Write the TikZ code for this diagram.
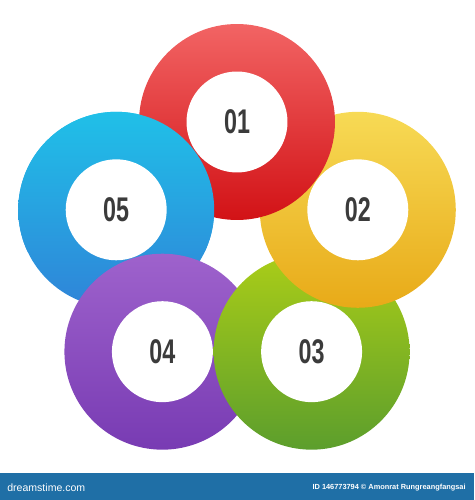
\documentclass[tikz,border=0pt]{standalone}
\usepackage{fontspec}
\setmainfont{Liberation Sans}
\usepackage{graphicx}
\usetikzlibrary{shapes.geometric}

\definecolor{redtop}{HTML}{F26464}
\definecolor{redbot}{HTML}{D21216}
\definecolor{yeltop}{HTML}{F7DA55}
\definecolor{yelbot}{HTML}{E8AA18}
\definecolor{grntop}{HTML}{AACD18}
\definecolor{grnbot}{HTML}{5C9E2C}
\definecolor{purtop}{HTML}{9E62CC}
\definecolor{purbot}{HTML}{783BB3}
\definecolor{blutop}{HTML}{20C0E8}
\definecolor{blubot}{HTML}{2F84D8}
\definecolor{digit}{HTML}{3B3B3B}
\definecolor{band}{HTML}{1F6FA6}

\tikzstyle{ring} = [circle, minimum size=3.92cm, inner sep=0pt, draw=none]
\tikzstyle{hole} = [circle, minimum size=2.02cm, inner sep=0pt, fill=white, text=digit, font=\fontsize{19.5}{19.5}\bfseries]
\tikzstyle{textonly} = [rectangle, inner sep=0pt, text=white]

\newcommand{\num}[1]{\scalebox{0.68}[1]{#1}}

\begin{document}
\begin{tikzpicture}[x=0.02cm,y=0.02cm]
\useasboundingbox (0,0) rectangle (474,500);

% rings, drawn round the cycle
\node at (116.2,290.2) (ring5) [ring, top color=blutop, bottom color=blubot] {};
\node at (162.4,148.3) (ring4) [ring, top color=purtop, bottom color=purbot] {};
\node at (311.6,148.3) (ring3) [ring, top color=grntop, bottom color=grnbot] {};
\node at (357.8,290.2) (ring2) [ring, top color=yeltop, bottom color=yelbot] {};
\node at (237,378) (ring1) [ring, top color=redtop, bottom color=redbot] {};

% blue goes over red again
\begin{scope}
\clip (0,248) rectangle (474,500);
\node at (ring5.center) (ring5b) [ring, top color=blutop, bottom color=blubot] {};
\end{scope}

\node at (ring1.center) (hole1) [hole] {\num{01}};
\node at (ring2.center) (hole2) [hole] {\num{02}};
\node at (ring3.center) (hole3) [hole] {\num{03}};
\node at (ring4.center) (hole4) [hole] {\num{04}};
\node at (ring5.center) (hole5) [hole] {\num{05}};

% footer
\fill[band] (0,0) rectangle (474,27);
\node(brand)[textonly, anchor=west, font=\fontsize{6}{6}\selectfont] at (7,12) {dreamstime.com};
\node(credit)[textonly, anchor=east, font=\fontsize{4.2}{4.2}\bfseries] at (466,12) {ID 146773794 \textcopyright{} Amonrat Rungreangfangsai};

\end{tikzpicture}
\end{document}
